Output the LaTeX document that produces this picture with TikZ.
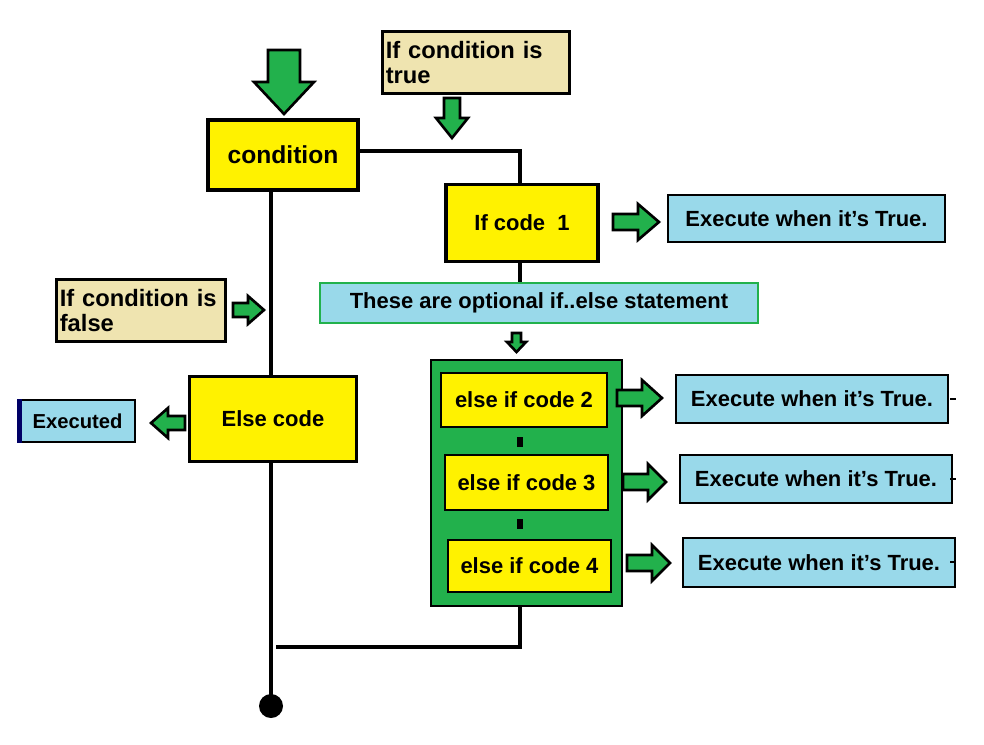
\documentclass[tikz,border=0pt]{standalone}
\usepackage{fontspec}
\setmainfont{Liberation Sans}
\usetikzlibrary{calc}
\definecolor{yel}{HTML}{FFF200}
\definecolor{tan}{HTML}{EFE4B0}
\definecolor{lb}{HTML}{99D9EA}
\definecolor{gr}{HTML}{22B14C}
\begin{document}
\begin{tikzpicture}[x=0.02cm,y=-0.02cm,
 box/.style={draw=black,line width=2.2pt,fill=yel,font=\bfseries\fontsize{12.5}{14}\selectfont},
 tanb/.style={draw=black,line width=1.5pt,fill=tan,font=\bfseries\fontsize{13.5}{14}\selectfont,align=left,anchor=north west,inner sep=2pt},
 blue/.style={draw=black,line width=1pt,fill=lb,font=\bfseries\fontsize{12.5}{14}\selectfont},
 ln/.style={line width=2.2pt},
 garrow/.style={fill=gr,draw=black,line width=1.5pt}]
\path[fill=white] (0,0) rectangle (984,744);
\node[box,font=\bfseries\fontsize{14}{15}\selectfont,minimum width=150*0.02cm,minimum height=70*0.02cm] (cond) at (283,155) {condition};
\node[box,minimum width=152*0.02cm,minimum height=77*0.02cm] (if1) at (522,223) {If code\ \ 1};
\node[box,minimum width=167*0.02cm,minimum height=85*0.02cm] (else) at (273,419) {Else code};
\node[draw=gr,line width=1.5pt,fill=lb,minimum width=438*0.02cm,minimum height=40*0.02cm,font=\bfseries\fontsize{12.5}{14}\selectfont] (opt) at (539,303) {These are optional if..else statement};
\node[draw=black,line width=1.5pt,fill=gr,minimum width=191*0.02cm,minimum height=246*0.02cm] (cont) at (526.5,483) {};
\node[box,line width=1.5pt,minimum width=166*0.02cm,minimum height=54*0.02cm] (e2) at (524,400) {else if code 2};
\node[box,line width=1.5pt,minimum width=163*0.02cm,minimum height=55*0.02cm] (e3) at (526.5,482.5) {else if code 3};
\node[box,line width=1.5pt,minimum width=163*0.02cm,minimum height=52*0.02cm] (e4) at (529.5,566) {else if code 4};
\node[tanb,text width=180*0.02cm,minimum height=62*0.02cm] (tt) at (381,30) {If condition is\\true};
\node[tanb,text width=162*0.02cm,minimum height=62*0.02cm] (tf) at (55,278) {If condition is\\false};
\node[blue,minimum width=277*0.02cm,minimum height=47*0.02cm] (x1) at (806.5,218.5) {Execute when it's True.};
\node[blue,minimum width=272*0.02cm,minimum height=48*0.02cm] (x2) at (812,399) {Execute when it's True.};
\node[blue,minimum width=272*0.02cm,minimum height=48*0.02cm] (x3) at (816,479) {Execute when it's True.};
\node[blue,minimum width=272*0.02cm,minimum height=49*0.02cm] (x4) at (819,562.5) {Execute when it's True.};
\node[draw=black,line width=0.8pt,fill=lb,minimum width=115*0.02cm,minimum height=42*0.02cm,font=\bfseries\fontsize{11.5}{13}\selectfont] (ex) at (77.5,421) {Executed};
\draw[line width=3pt,color=black!60!blue] (ex.north west) -- (ex.south west);
\coordinate (c1) at (520,151);
\coordinate (bot) at (271,706);
\coordinate (j1) at (520,647);
\coordinate (j2) at (276,647);
\draw[ln] (cond.east|-c1) -- (c1) -- (c1|-if1.north);
\draw[ln] (if1.south-|c1) -- (c1|-opt.north);
\draw[ln] (271,190) -- (271,377);
\draw[ln] (271,462) -- (bot);
\draw[ln] (c1|-cont.south) -- (j1) -- (j2);
\fill (bot) circle (12);
\draw[line width=3pt] (520,437) -- (520,447) (520,519) -- (520,529);
\foreach \y in {399,479,562}{\draw[line width=1pt] (950,\y) -- (956,\y);}
\draw[garrow] (268,50)--(300,50)--(300,82)--(314,82)--(284,114)--(254,82)--(268,82)--cycle;
\draw[garrow] (444,98)--(460,98)--(460,118)--(468,118)--(452,138)--(436,118)--(444,118)--cycle;
\draw[garrow] (512,333)--(521,333)--(521,342)--(526,342)--(516.5,352)--(507,342)--(512,342)--cycle;
\newcommand\rarrow[3]{\draw[garrow] (#1,#2-8)--(#1+25,#2-8)--(#1+25,#2-18)--(#1+#3,#2)--(#1+25,#2+18)--(#1+25,#2+8)--(#1,#2+8)--cycle;}
\rarrow{613}{222}{46}
\rarrow{617}{398}{45}
\rarrow{623}{482}{43}
\rarrow{627}{563}{43}
\draw[garrow] (233,303)--(248,303)--(248,296)--(264,310)--(248,324)--(248,317)--(233,317)--cycle;
\draw[garrow] (185,416)--(168,416)--(168,408)--(151,423)--(168,438)--(168,430)--(185,430)--cycle;
\end{tikzpicture}
\end{document}
